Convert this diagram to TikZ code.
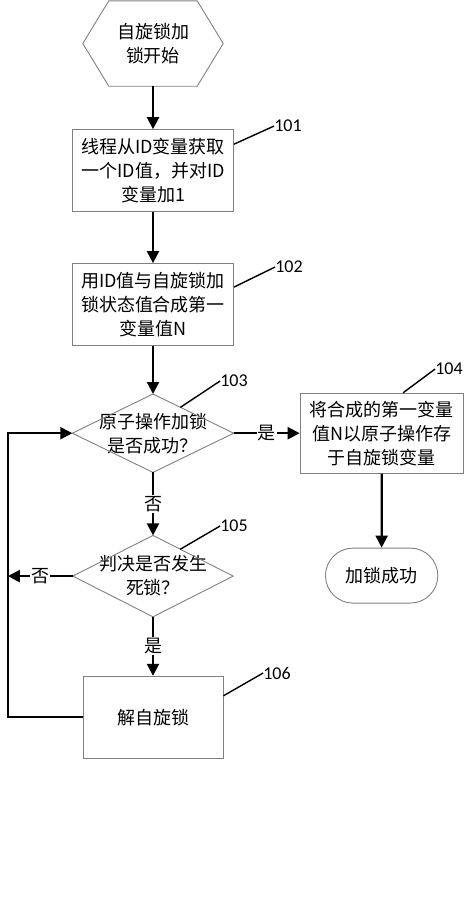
\documentclass[tikz,border=0pt]{standalone}
\usepackage{fontspec}
\setmainfont{Noto Sans CJK SC}
\newfontfamily\numfont{Carlito}
\usetikzlibrary{arrows.meta,positioning,calc,shapes.misc}

\begin{document}
\begin{tikzpicture}[
  x=1pt, y=-1pt,
  font=\fontsize{18}{24}\selectfont,
  box/.style={draw=black!50, line width=0.9pt, align=center, inner sep=2pt,
    minimum width=161pt, minimum height=82pt},
  dec/.style={align=center, inner sep=0pt, minimum width=161pt, minimum height=78pt},
  outline/.style={draw=black!50, line width=0.9pt},
  term/.style={draw=black!50, line width=0.9pt, rounded rectangle,
    minimum width=119pt, minimum height=55pt},
  arr/.style={-{Triangle[length=12pt,width=12pt]}, line width=2.2pt},
  lbl/.style={fill=white, inner sep=1pt},
  num/.style={font=\numfont\fontsize{18}{20}\selectfont, inner sep=0pt},
  lead/.style={line width=1.4pt}
]
\useasboundingbox (0,0) rectangle (474,898);

% main column
\node[align=center, minimum width=140pt, minimum height=85pt] (start) at (153,43.5) {自旋锁加\\锁开始};
\node[box, below=43pt of start] (fetch) {线程从ID变量获取\\一个ID值，并对ID\\变量加1};
\node[box, below=51pt of fetch] (merge) {用ID值与自旋锁加\\锁状态值合成第一\\变量值N};
\node[dec, below=48pt of merge] (trylock) {原子操作加锁\\是否成功？};
\node[dec, below=63pt of trylock, minimum width=160pt, minimum height=81pt] (deadlock) {判决是否发生\\死锁？};
\node[box, below=59pt of deadlock, minimum width=140pt] (unlock) {解自旋锁};

% right column
\node[box, right=66pt of trylock, minimum width=163pt, minimum height=80pt] (store) {将合成的第一变量\\值N以原子操作存\\于自旋锁变量};
\node[term, below=74pt of store] (done) {加锁成功};

% outlines of hexagon and diamonds
\draw[outline] (start.west) -- ([xshift=26pt]start.north west) -- ([xshift=-26pt]start.north east)
  -- (start.east) -- ([xshift=-26pt]start.south east) -- ([xshift=26pt]start.south west) -- cycle;
\draw[outline] (trylock.north) -- (trylock.east) -- (trylock.south) -- (trylock.west) -- cycle;
\draw[outline] (deadlock.north) -- (deadlock.east) -- (deadlock.south) -- (deadlock.west) -- cycle;

% step numbers
\node[num] (n101) at (288,126) {101};
\node[num] (n102) at (289,267) {102};
\node[num] (n103) at (234,381) {103};
\node[num] (n104) at (449,369) {104};
\node[num] (n105) at (234,526) {105};
\node[num] (n106) at (277,673) {106};

\draw[lead] ([yshift=-15pt]fetch.north east) -- (n101.west);
\draw[lead] ([yshift=-24pt]merge.north east) -- (n102.west);
\draw[lead] ($(trylock.north)!0.34!(trylock.east)$) -- (n103.west);
\draw[lead] ([xshift=21.5pt]store.north) -- (n104.west);
\draw[lead] ($(deadlock.north)!0.34!(deadlock.east)$) -- (n105.west);
\draw[lead] ([yshift=-20pt]unlock.north east) -- (n106.west);

% connectors
\coordinate[left=65pt of deadlock.west] (nodead);
\coordinate (loop) at (nodead |- unlock.west);

\draw[arr] (start) -- (fetch);
\draw[arr] (fetch) -- (merge);
\draw[arr] (merge) -- (trylock);
\draw[arr] (trylock) -- node[lbl] {是} (store);
\draw[arr] (store) -- (done);
\draw[arr] (trylock) -- node[lbl] {否} (deadlock);
\draw[arr] (deadlock.west) -- node[lbl] {否} (nodead);
\draw[arr] (deadlock) -- node[lbl] {是} (unlock);
\draw[arr] (unlock.west) -- (loop) |- (trylock.west);
\end{tikzpicture}
\end{document}
